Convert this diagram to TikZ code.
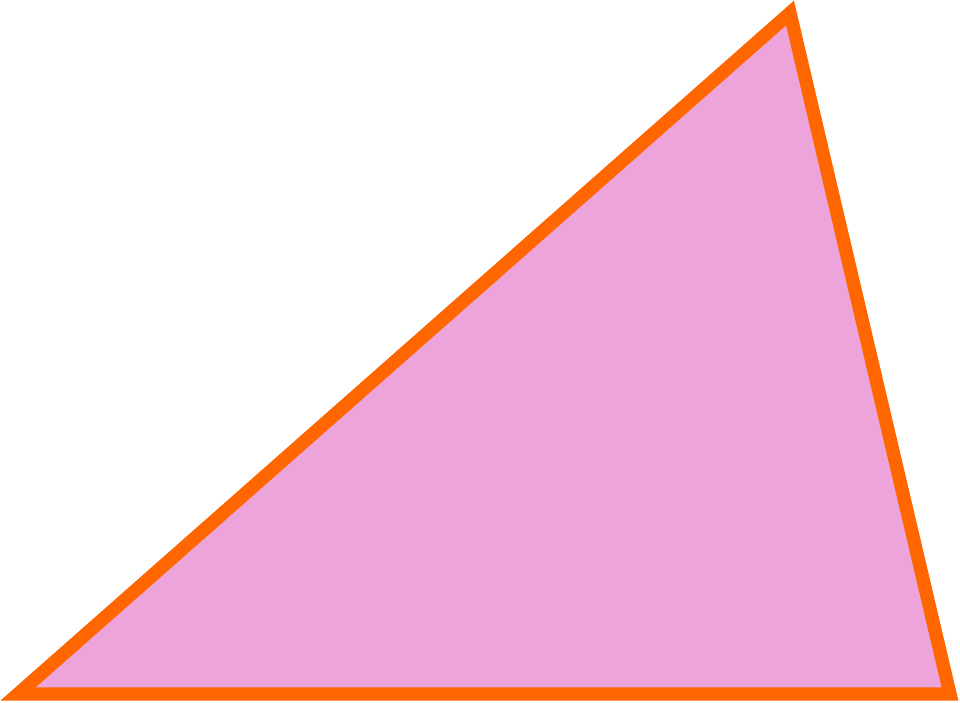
\documentclass[tikz,border=0pt]{standalone}
\definecolor{triPink}{HTML}{EDA4DA}
\definecolor{triOrange}{HTML}{FF6600}
\begin{document}
\begin{tikzpicture}[x=0.75pt, y=-0.75pt]
        \useasboundingbox 
            (0,0) rectangle (960,703);
        \coordinate (A) at (18,694);
        \coordinate (B) at (790,13);
        \coordinate (C) at (950,694);
        \filldraw 
            [fill=triPink, draw=triOrange, line width=10pt, line join=miter] (A)--(B)--(C)--cycle;
    \end{tikzpicture}
\end{document}
